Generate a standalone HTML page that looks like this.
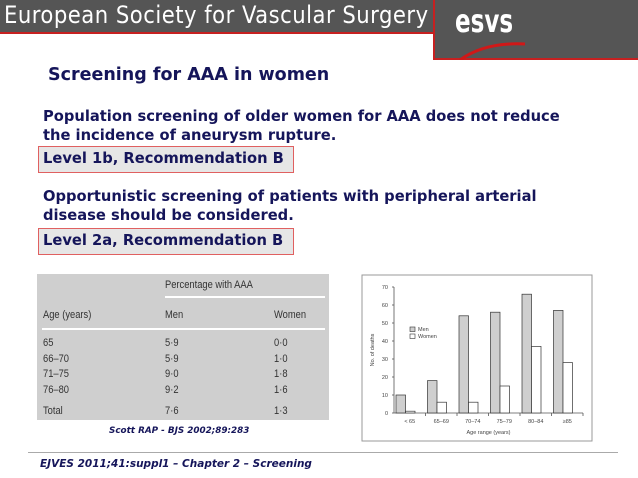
<!DOCTYPE html>
<html><head><meta charset="utf-8"><style>
body{margin:0;width:638px;height:478px;background:#fff;position:relative;overflow:hidden;font-family:"DejaVu Sans","Liberation Sans",sans-serif}
.a{position:absolute;white-space:nowrap}
.t{color:#15155a;font-weight:bold;font-size:14.7px}
.box{position:absolute;background:#e6e6e6;border:1.5px solid #e06060;box-sizing:border-box}
.tb{position:absolute;font-family:"Liberation Sans",sans-serif;font-size:11px;color:#333;transform:scaleX(0.85);transform-origin:left}
</style></head><body>
<div class="a" style="left:0;top:0;width:433px;height:32px;background:#555;border-bottom:2px solid #c62020"></div>
<div class="a" style="left:4px;top:1px;font-size:24px;color:#fff;font-family:'DejaVu Sans Condensed','DejaVu Sans',sans-serif;letter-spacing:0.5px;transform:scaleX(0.98);transform-origin:left">European Society for Vascular Surgery</div>
<div class="a" style="left:433px;top:0;width:205px;height:60px;background:#555;border:2px solid #c62020;border-top:none;border-right:none;box-sizing:border-box">
<div class="a" style="left:20px;top:2px;color:#fff;font-size:32px;font-weight:bold;font-family:'DejaVu Sans Condensed','DejaVu Sans',sans-serif;transform:scaleX(0.8);transform-origin:left">esvs</div>
<svg class="a" style="left:20px;top:38px" width="80" height="22"><path d="M5 22 Q30 4 70 6" stroke="#d01818" stroke-width="3" fill="none"/></svg>
</div>
<div class="a t" style="left:48px;top:65px;font-size:17.5px">Screening for AAA in women</div>
<div class="a t" style="left:43px;top:107px;line-height:19px">Population screening of older women for AAA does not reduce<br>the incidence of aneurysm rupture.</div>
<div class="box" style="left:38px;top:146px;width:256px;height:27px"></div>
<div class="a t" style="left:43px;top:150px">Level 1b, Recommendation B</div>
<div class="a t" style="left:43px;top:187px;line-height:19px">Opportunistic screening of patients with peripheral arterial<br>disease should be considered.</div>
<div class="box" style="left:38px;top:228px;width:256px;height:27px"></div>
<div class="a t" style="left:43px;top:232px">Level 2a, Recommendation B</div>

<div class="a" style="left:37px;top:274px;width:292px;height:146px;background:#cfcfcf">
<div class="tb" style="left:128px;top:5px">Percentage with AAA</div>
<div class="a" style="left:128px;top:22px;width:160px;height:2px;background:#fff"></div>
<div class="tb" style="left:6px;top:35px">Age (years)</div><div class="tb" style="left:128px;top:35px">Men</div><div class="tb" style="left:237px;top:35px">Women</div>
<div class="a" style="left:5px;top:54px;width:283px;height:2px;background:#fff"></div>
<div class="tb" style="left:6px;top:62px;line-height:15.5px">65<br>66–70<br>71–75<br>76–80</div>
<div class="tb" style="left:128px;top:62px;line-height:15.5px">5·9<br>5·9<br>9·0<br>9·2</div>
<div class="tb" style="left:237px;top:62px;line-height:15.5px">0·0<br>1·0<br>1·8<br>1·6</div>
<div class="tb" style="left:6px;top:131px">Total</div><div class="tb" style="left:128px;top:131px">7·6</div><div class="tb" style="left:237px;top:131px">1·3</div>
</div>
<div class="a" style="left:109px;top:426px;font-size:8.8px;font-style:italic;font-weight:bold;color:#15155a">Scott RAP - BJS 2002;89:283</div>

<svg class="a" style="left:0;top:0" width="638" height="478" id="chart"></svg>

<div class="a" style="left:28px;top:452px;width:590px;height:1px;background:#aaa"></div>
<div class="a" style="left:40px;top:458px;font-size:10.5px;font-style:italic;font-weight:bold;color:#15155a">EJVES 2011;41:suppl1 – Chapter 2 – Screening</div>

<script>
const categories=["< 65","65–69","70–74","75–79","80–84","≥85"];
const menValues=[10,18,54,56,66,57];
const womenValues=[1,6,6,15,37,28];
const yTicks=[0,10,20,30,40,50,60,70];
const svg=document.getElementById('chart');
const NS="http://www.w3.org/2000/svg";
const x0=394,x1=583,yBase=413,yTop=287,yMax=70;
const y=v=>yBase-(v/yMax)*(yBase-yTop);
const gw=(x1-x0)/categories.length;
const gx=i=>x0+i*gw;
function mk(t,a){const e=document.createElementNS(NS,t);for(const k in a)e.setAttribute(k,a[k]);svg.appendChild(e);return e;}
const fr=mk('rect',{x:362,y:275,width:230,height:166,fill:'#fff',stroke:'#999','stroke-width':1});

const ya=mk('line',{x1:x0,y1:y(yMax),x2:x0,y2:yBase,stroke:'#555','stroke-width':0.8});

const xa=mk('line',{x1:x0,y1:yBase,x2:x1,y2:yBase,stroke:'#555','stroke-width':0.8});

yTicks.forEach(t=>{
 mk('line',{x1:x0-2,x2:x0,y1:y(t),y2:y(t),stroke:'#555','stroke-width':0.8});
 const tx=mk('text',{x:x0-6,y:y(t)+2,'font-size':5.5,'text-anchor':'end',fill:'#444','font-family':'Liberation Sans,sans-serif'});tx.textContent=t;
 
});
categories.forEach((c,i)=>{
 mk('line',{x1:gx(i+1),x2:gx(i+1),y1:yBase,y2:yBase+3,stroke:'#555','stroke-width':0.8});
 const bm=mk('rect',{x:gx(i)+2,y:y(menValues[i]),width:9.5,height:yBase-y(menValues[i]),fill:'#cfcfcf',stroke:'#333','stroke-width':0.7});
 
 const bw=mk('rect',{x:gx(i)+11.5,y:y(womenValues[i]),width:9.5,height:yBase-y(womenValues[i]),fill:'#fff',stroke:'#333','stroke-width':0.7});
 
 const tl=mk('text',{x:gx(i)+gw/2,y:yBase+10,'font-size':5.5,'text-anchor':'middle',fill:'#444','font-family':'Liberation Sans,sans-serif'});tl.textContent=c;
 
});
const xt=mk('text',{x:(x0+x1)/2,y:yBase+21,'font-size':5.5,'text-anchor':'middle',fill:'#444','font-family':'Liberation Sans,sans-serif'});xt.textContent='Age range (years)';

const yt=mk('text',{x:0,y:0,'font-size':5.5,'text-anchor':'middle',fill:'#444','font-family':'Liberation Sans,sans-serif',transform:`translate(374,${(yBase+yTop)/2}) rotate(-90)`});yt.textContent='No. of deaths';

[['Men','#cfcfcf',331],['Women','#fff',338]].forEach(([n,f,yy])=>{
 const r=mk('rect',{x:410,y:yy-4,width:5,height:4.5,fill:f,stroke:'#333','stroke-width':0.6});
 
 const t=mk('text',{x:418,y:yy,'font-size':5.5,fill:'#444','font-family':'Liberation Sans,sans-serif'});t.textContent=n;
 
});
</script>
</body></html>
